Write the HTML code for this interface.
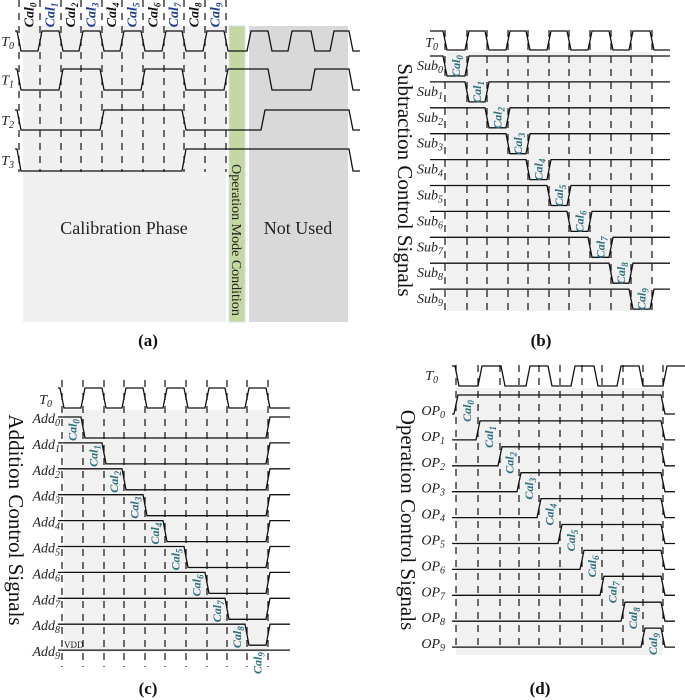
<!DOCTYPE html>
<html><head><meta charset="utf-8"><style>
html,body{margin:0;padding:0;background:#fff;}
svg{display:block;font-family:"Liberation Serif",serif;}
.w{fill:none;stroke:#111;stroke-width:1.3;}
.d{stroke:#111;stroke-width:1.2;stroke-dasharray:7,6;}
.lbl{font-style:italic;font-size:14px;fill:#222;}
.cal{font-style:italic;font-weight:bold;font-size:12px;fill:#2b6f7f;}
.cala{font-style:italic;font-weight:bold;font-size:14px;fill:#111;}
.ttl{font-size:21px;fill:#111;}
.cap{font-size:17px;font-weight:bold;fill:#111;}
</style></head><body>
<svg id="s" width="685" height="700" viewBox="0 0 685 700">
<g id="bg">
<rect x="23" y="26" width="203" height="296" fill="#f0f0f0"/>
<rect x="229" y="26" width="16" height="296" fill="#c4d8a0" stroke="#cfe3ee" stroke-width="1"/>
<rect x="249" y="26" width="99" height="296" fill="#d9d9d9"/>
<rect x="447" y="52" width="205" height="259" fill="#f1f1f1"/>
<rect x="64" y="410" width="204" height="242" fill="#f1f1f1"/>
<rect x="456" y="388" width="207" height="267" fill="#f1f1f1"/>
</g>
<text x="124" y="234" text-anchor="middle" font-size="18" fill="#222">Calibration Phase</text>
<text x="298" y="234" text-anchor="middle" font-size="18" fill="#222">Not Used</text>
<text transform="translate(232,240) rotate(90)" text-anchor="middle" font-size="14" fill="#222">Operation Mode Condition</text>
<text class="ttl" transform="translate(398,180) rotate(90)" text-anchor="middle">Subtraction Control Signals</text>
<text class="ttl" transform="translate(9,520) rotate(90)" text-anchor="middle">Addition Control Signals</text>
<text class="ttl" transform="translate(401,520) rotate(90)" text-anchor="middle">Operation Control Signals</text>
<text class="cap" x="148" y="346" text-anchor="middle">(a)</text>
<text class="cap" x="541" y="346" text-anchor="middle">(b)</text>
<text class="cap" x="148" y="694" text-anchor="middle">(c)</text>
<text class="cap" x="540" y="694" text-anchor="middle">(d)</text>
<text x="64" y="648" font-size="9" fill="#222">VDD</text>
</svg>
<script>
// ---- data ----
var aBounds=[15,19,40,61,81,102,122,143,164,184,205,226,249,263,270,290,313,332,351,360];
var aT0=[1,0,1,0,1,0,1,0,1,0,1,0,1,1,0,1,0,1,0];
var aT1=[1,0,0,1,1,0,0,1,1,0,0,1,1,1,0,0,1,1,0];
var aT2=[1,0,0,0,0,1,1,1,1,0,0,0,0,1,1,1,1,1,0];
var aT3=[1,0,0,0,0,0,0,0,0,1,1,1,1,1,1,1,1,1,0];
var aSignals=[aT0,aT1,aT2,aT3];
var aHigh=[31,69,110,149];
var aLow=[51,90,130,171];
var calIdx=[0,1,2,3,4,5,6,7,8,9];
var nSig=10;

var S=document.getElementById('s');
var NS='http://www.w3.org/2000/svg';
function mk(tag,attrs){var e=document.createElementNS(NS,tag);for(var k in attrs)e.setAttribute(k,attrs[k]);S.appendChild(e);return e;}
function wavePath(b,lv,yh,yl,sl){
  function Y(v){return v?yh:yl;}
  var d='M'+b[0]+' '+Y(lv[0]);
  for(var i=1;i<lv.length;i++){
    if(lv[i]!==lv[i-1]){d+=' L'+(b[i]-sl/2)+' '+Y(lv[i-1])+' L'+(b[i]+sl/2)+' '+Y(lv[i]);}
  }
  d+=' L'+b[b.length-1]+' '+Y(lv[lv.length-1]);
  return d;
}
function dashes(cols,y0,y1,nm){
  for(var i=0;i<cols.length;i++){
    var l=mk('line',{x1:cols[i],x2:cols[i],y1:y0,y2:y1,'class':'d'});
    
    
  }
}
function label(x,y,base,sub,cls,anchor,nm){
  var t=mk('text',{x:x,y:y,'class':cls,'text-anchor':anchor||'end'});
  
  
  t.appendChild(document.createTextNode(base));
  var s=document.createElementNS(NS,'tspan');s.setAttribute('font-size','10');s.setAttribute('dy','3');s.textContent=sub;t.appendChild(s);
  return t;
}
function calLabel(cx,cy,k,color,nm,cls){
  var t=mk('text',{transform:'translate('+(cx+4)+','+cy+') rotate(-90)','class':cls||'cal','text-anchor':'middle'});
  if(color)t.setAttribute('style','fill:'+color);
  
  
  t.appendChild(document.createTextNode('Cal'));
  var s=document.createElementNS(NS,'tspan');s.setAttribute('font-size','9');s.setAttribute('dy','3');s.textContent=k;t.appendChild(s);
}
function wave(b,lv,yh,yl,nm){
  var p=mk('path',{d:wavePath(b,lv,yh,yl,4),'class':'w'});
  
  
}

// ---- Panel (a) ----
var aCols=aBounds.slice(1,12);
dashes(aCols,0,172,'panel-a');
for(var i=0;i<aSignals.length;i++){
  wave(aBounds,aSignals[i],aHigh[i],aLow[i],'panel-a-T'+i+'-waveform');
  label(14,(aHigh[i]+aLow[i])/2+5,'T',String(i),'lbl','end','panel-a-T'+i+'-label');
}
for(var k=0;k<calIdx.length;k++){
  calLabel((aCols[k]+aCols[k+1])/2,15,calIdx[k],k%2?'#1e3f8c':'#111','panel-a-cal'+k+'-label','cala');
}

// ---- Panel (b) ----
var bCols=[445,467,487,508,528,549,569,590,611,631,652];
var bBounds=[430].concat(bCols).concat([670]);
var bT0=[1,0,1,0,1,0,1,0,1,0,1,0];
dashes(bCols,30,312,'panel-b');
wave(bBounds,bT0,31,50,'panel-b-T0-waveform');
label(438,47,'T','0','lbl','end','panel-b-T0-label');
for(var k=0;k<nSig;k++){
  var yh=56+k*25.9;
  var lv=[1];for(var j=0;j<10;j++)lv.push(j===k?0:1);lv.push(1);
  wave(bBounds,lv,yh,yh+20,'panel-b-sub'+k+'-waveform');
  label(443,yh+14,'Sub',String(k),'lbl','end','panel-b-sub'+k+'-label');
  calLabel((bCols[k]+bCols[k+1])/2,yh+10,k,null,'panel-b-cal'+k+'-label');
}

// ---- Panel (c) ----
var cCols=[62,83,104,124,145,165,186,207,227,247,268];
var cBounds=[58].concat(cCols).concat([290]);
var cT0=[1,0,1,0,1,0,1,0,1,0,1,0];
dashes(cCols,380,667,'panel-c');
wave(cBounds,cT0,388,408,'panel-c-T0-waveform');
label(52,404,'T','0','lbl','end','panel-c-T0-label');
for(var k=0;k<nSig;k++){
  var yh=417+k*25.9;
  var lv=[1];for(var j=0;j<10;j++)lv.push(j<=k?1:0);lv.push(1);
  wave(cBounds,lv,yh,yh+21,'panel-c-add'+k+'-waveform');
  label(60,yh+6,'Add',String(k),'lbl','end','panel-c-add'+k+'-label');
  calLabel((cCols[k]+cCols[k+1])/2,yh+13,k,null,'panel-c-cal'+k+'-label');
}

// ---- Panel (d) ----
var dCols=[456,478,500,519,539,560,582,602,623,643,663];
var dBounds=[452].concat(dCols).concat([675]);
var dT0Bounds=[452,457,480,503,528,550,573,596,619,641,665,685];
var dT0=[1,0,1,0,1,0,1,0,1,0,1];
dashes(dCols,365,648,'panel-d');
wave(dT0Bounds,dT0,366,386,'panel-d-T0-waveform');
label(438,380,'T','0','lbl','end','panel-d-T0-label');
for(var k=0;k<nSig;k++){
  var yh=395+k*25.9;
  var lv=[0];for(var j=0;j<10;j++)lv.push(j>=k?1:0);lv.push(0);
  wave(dBounds,lv,yh,yh+19,'panel-d-op'+k+'-waveform');
  label(445,yh+20,'OP',String(k),'lbl','end','panel-d-op'+k+'-label');
  calLabel((dCols[k]+dCols[k+1])/2,yh+16,k,null,'panel-d-cal'+k+'-label');
}
</script>
</body></html>
